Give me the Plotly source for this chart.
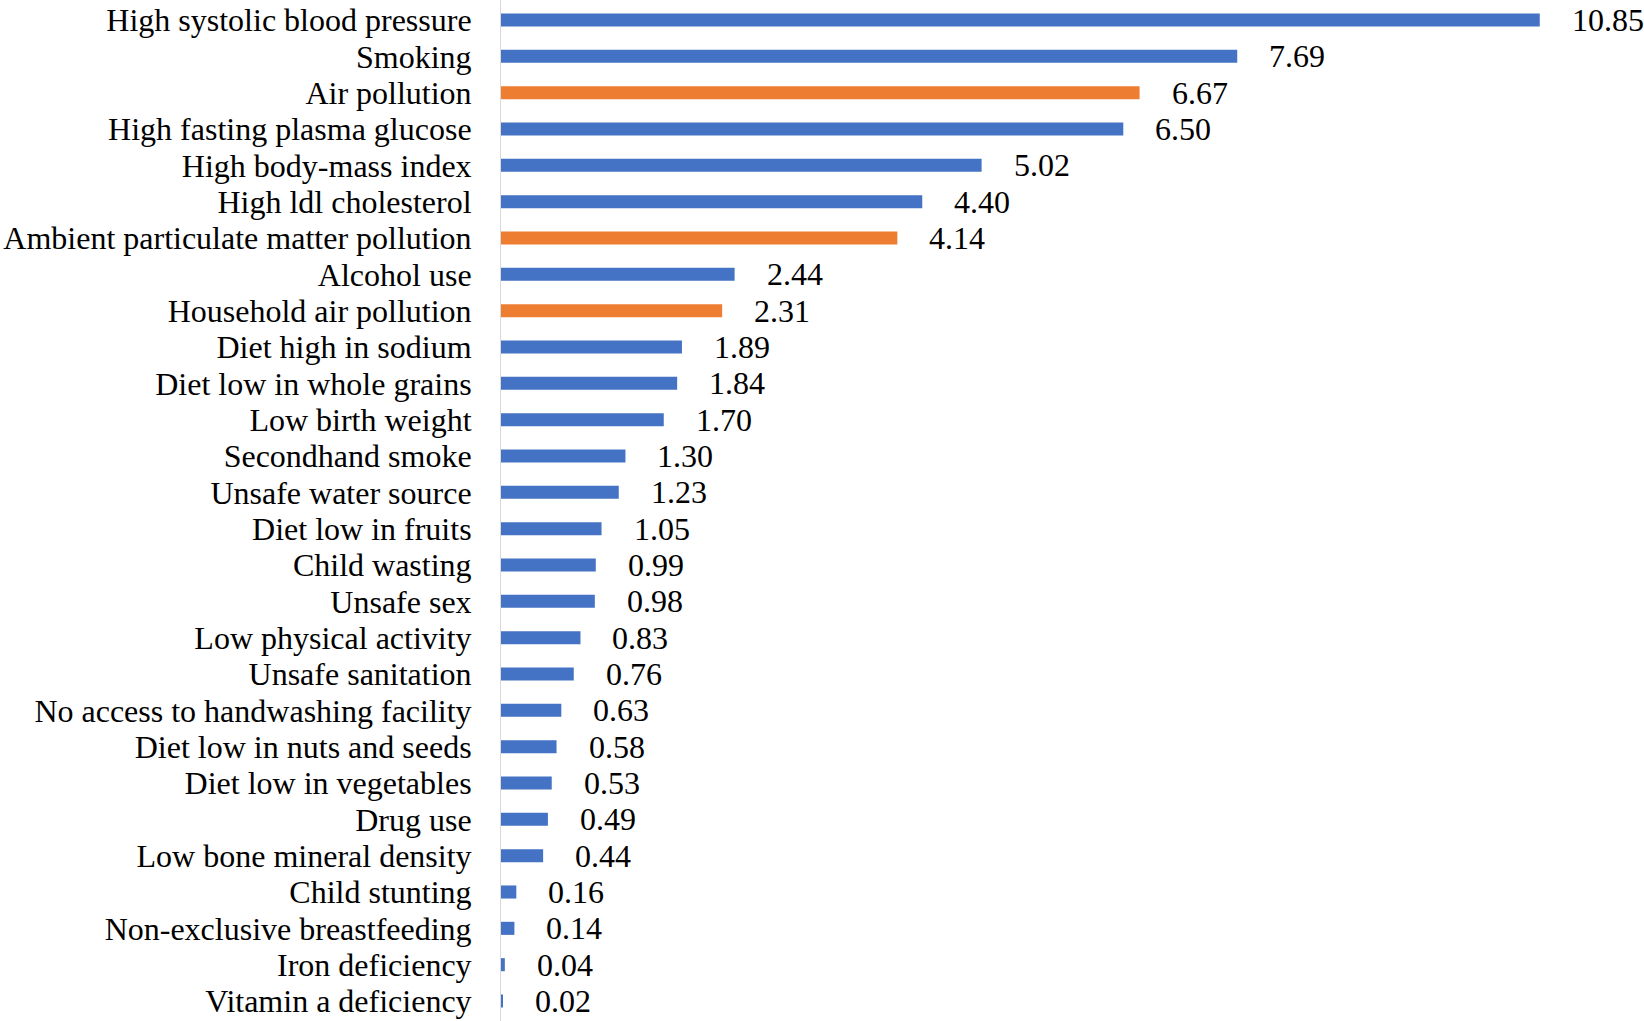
import plotly.graph_objs as go

risk_factors = ["High systolic blood pressure", "Smoking", "Air pollution",
                "High fasting plasma glucose", "High body-mass index",
                "High ldl cholesterol", "Ambient particulate matter pollution",
                "Alcohol use", "Household air pollution", "Diet high in sodium",
                "Diet low in whole grains", "Low birth weight", "Secondhand smoke",
                "Unsafe water source", "Diet low in fruits", "Child wasting",
                "Unsafe sex", "Low physical activity", "Unsafe sanitation",
                "No access to handwashing facility", "Diet low in nuts and seeds",
                "Diet low in vegetables", "Drug use", "Low bone mineral density",
                "Child stunting", "Non-exclusive breastfeeding", "Iron deficiency",
                "Vitamin a deficiency"]

values = [10.85, 7.69, 6.67, 6.50, 5.02, 4.40, 4.14, 2.44, 2.31, 1.89,
          1.84, 1.70, 1.30, 1.23, 1.05, 0.99, 0.98, 0.83, 0.76, 0.63,
          0.58, 0.53, 0.49, 0.44, 0.16, 0.14, 0.04, 0.02]

# air pollution related factors are highlighted
pollution = ["Air pollution", "Ambient particulate matter pollution",
             "Household air pollution"]

BLUE = "#4472C4"
ORANGE = "#ED7D31"
FONT = "Liberation Serif"
FSIZE = 32

colors = [ORANGE if name in pollution else BLUE for name in risk_factors]

fig = go.Figure()
fig.add_trace(go.Bar(x=values, y=risk_factors, orientation="h",
                     marker=dict(color=colors, line=dict(width=0)),
                     hoverinfo="x+y"))

# value labels right of each bar
for name, val in zip(risk_factors, values):
    fig.add_annotation(x=val, y=name, text="%.2f" % val, showarrow=False,
                       xanchor="left", yanchor="middle", xshift=30,
                       font=dict(family=FONT, size=FSIZE, color="black"))

fig.update_layout(
    width=1644, height=1021,
    margin=dict(l=501, r=42, t=0, b=0),
    plot_bgcolor="white", paper_bgcolor="white",
    bargap=0.64, showlegend=False,
    font=dict(family=FONT, size=FSIZE, color="black"),
    xaxis=dict(range=[0, 11.5], visible=False, showgrid=False, zeroline=False),
    yaxis=dict(autorange="reversed", showgrid=False, zeroline=False,
               showline=True, linecolor="#D9D9D9", linewidth=1,
               tickmode="array", tickvals=risk_factors, ticktext=risk_factors,
               ticks="", ticklabelstandoff=22,
               tickfont=dict(family=FONT, size=FSIZE, color="black")),
)

# drop the default page margin so the figure fills the window
fig.write_html("out.html", config={"displayModeBar": False},
               post_script="document.body.style.margin='0';")
